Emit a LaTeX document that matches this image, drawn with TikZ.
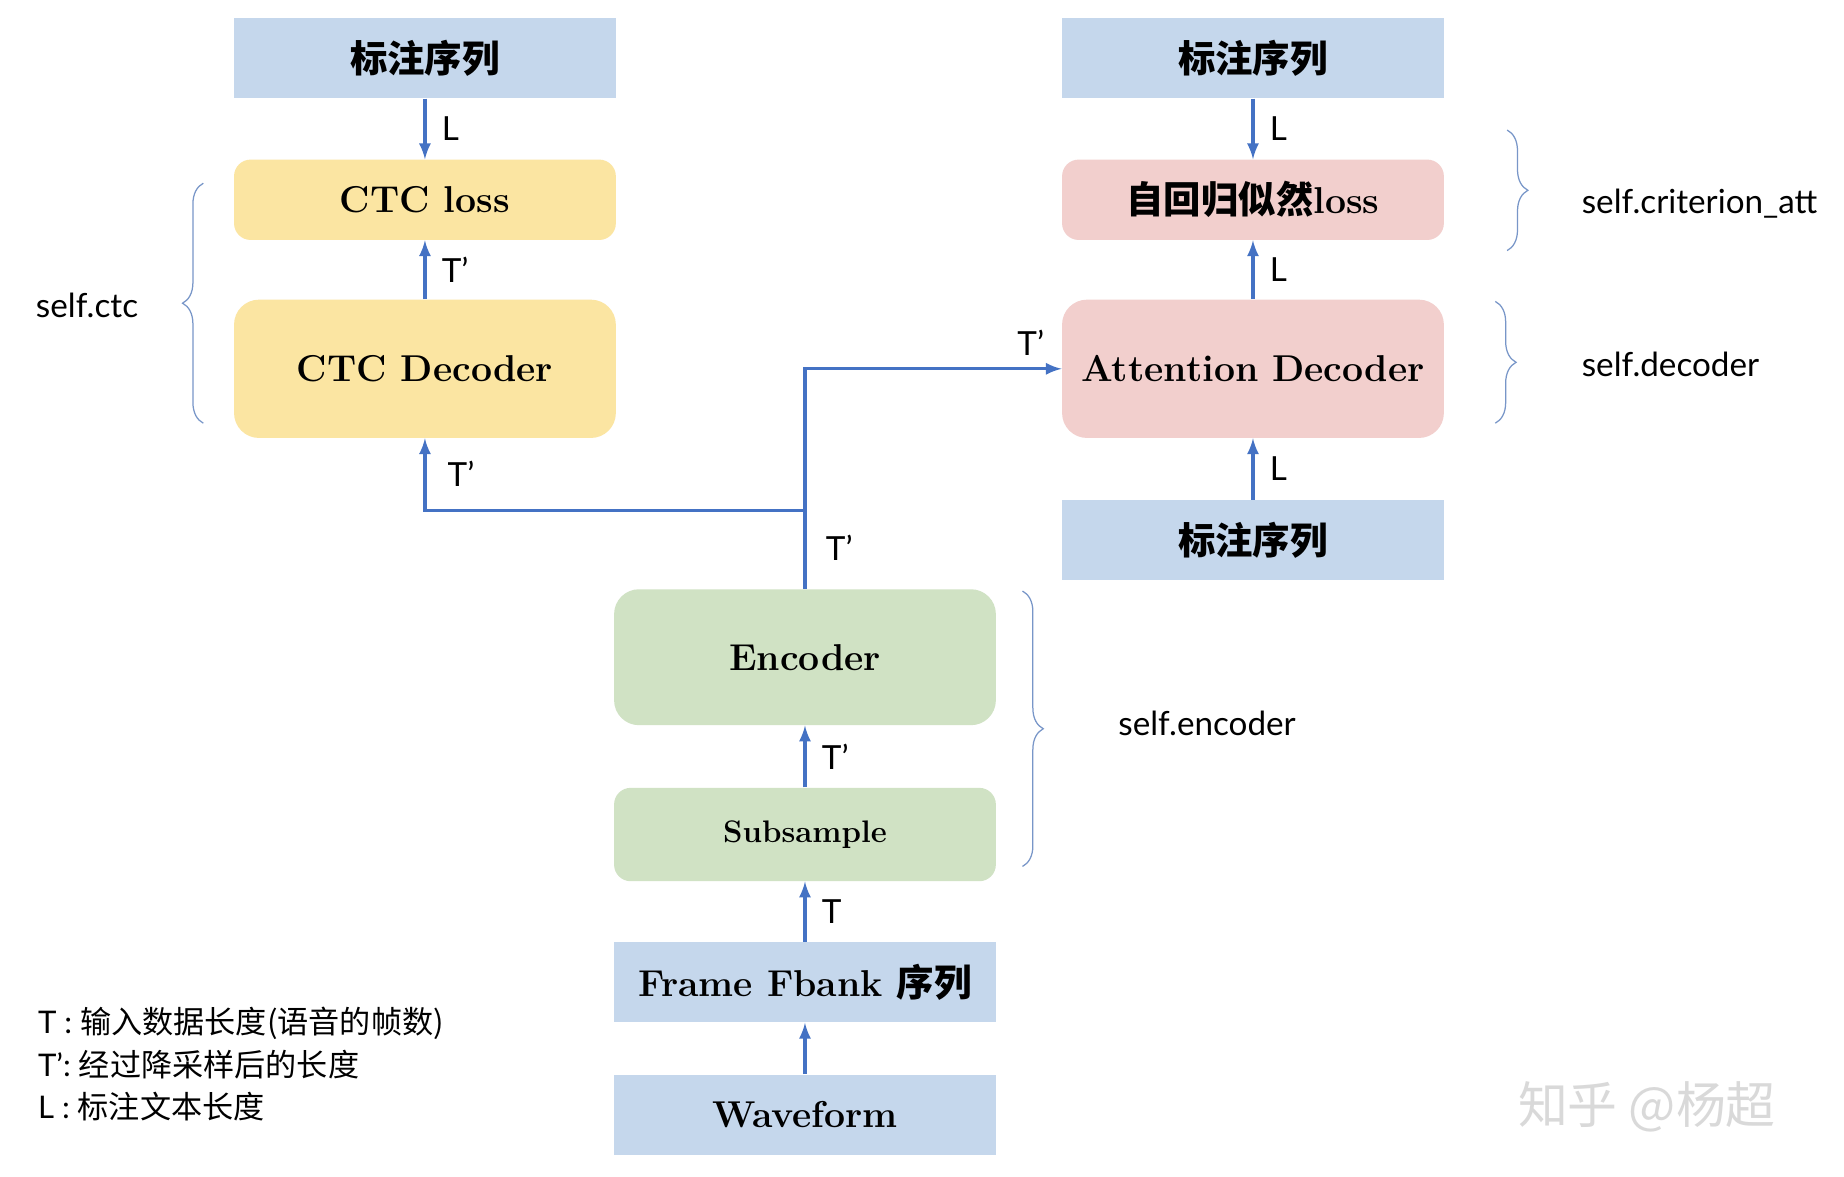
\documentclass[tikz,border=0pt]{standalone}
\usepackage{fontspec}
\setsansfont{Lato}
\newfontfamily\cjk{Noto Sans CJK SC}
\usetikzlibrary{decorations.pathreplacing}
\definecolor{bblue}{RGB}{197,215,236}
\definecolor{byel}{RGB}{251,229,162}
\definecolor{bpink}{RGB}{242,207,205}
\definecolor{bgreen}{RGB}{208,226,196}
\definecolor{arr}{RGB}{68,114,196}
\definecolor{brc}{RGB}{120,150,200}
\begin{document}
\begin{tikzpicture}[x=0.02cm,y=-0.02cm,
 box/.style={minimum width=323*0.02cm,inner sep=0pt,font=\fontsize{18}{20}\selectfont\bfseries},
 lab/.style={font=\sffamily\fontsize{16}{18}\selectfont},
 ar/.style={draw=arr,line width=1.6pt,-latex},
 ln/.style={draw=arr,line width=1.6pt},
 br/.style={draw=brc,line width=0.6pt,decorate,decoration={brace,amplitude=10pt}}]
\useasboundingbox (0,0) rectangle (1560,995);
\fill[white] (0,0) rectangle (1560,995);
% boxes
\node[box,fill=bblue,minimum height=68*0.02cm] (lt) at (359.5,49) {\cjk 标注序列};
\node[box,fill=byel,rounded corners=8pt,minimum height=68*0.02cm] (ctcl) at (359.5,169) {CTC loss};
\node[box,fill=byel,rounded corners=12pt,minimum height=117*0.02cm] (ctcd) at (359.5,312) {CTC Decoder};
\node[box,fill=bblue,minimum height=68*0.02cm] (rt) at (1060,49) {\cjk 标注序列};
\node[box,fill=bpink,rounded corners=8pt,minimum height=68*0.02cm] (arl) at (1060,169) {{\cjk 自回归似然}loss};
\node[box,fill=bpink,rounded corners=12pt,minimum height=117*0.02cm] (attd) at (1060,312) {Attention Decoder};
\node[box,fill=bblue,minimum height=68*0.02cm] (rb) at (1060,457) {\cjk 标注序列};
\node[box,fill=bgreen,rounded corners=12pt,minimum height=115*0.02cm] (enc) at (681,556) {Encoder};
\node[box,fill=bgreen,rounded corners=8pt,minimum height=79*0.02cm,font=\fontsize{15}{17}\selectfont\bfseries] (sub) at (681,706) {Subsample};
\node[box,fill=bblue,minimum height=68*0.02cm] (fb) at (681,831) {Frame Fbank {\cjk 序列}};
\node[box,fill=bblue,minimum height=68*0.02cm] (wf) at (681,943) {Waveform};
% arrows
\draw[ar] (lt) -- (ctcl) node[lab,midway,right=4pt] {L};
\draw[ar] (ctcd) -- (ctcl) node[lab,midway,right=4pt] {T’};
\draw[ar] (rt) -- (arl) node[lab,midway,right=4pt] {L};
\draw[ar] (attd) -- (arl) node[lab,midway,right=4pt] {L};
\draw[ar] (rb) -- (attd) node[lab,midway,right=4pt] {L};
\draw[ar] (sub) -- (enc) node[lab,midway,right=4pt] {T’};
\draw[ar] (fb) -- (sub) node[lab,midway,right=4pt] {T};
\draw[ar] (wf) -- (fb);
\coordinate (j) at (681,432);
\draw[ln] (enc.north) -- (j);
\draw[ar] (j) -| (ctcd.south);
\draw[ar] (j) |- (attd.west);
\node[lab] (t1) at (710,463) {T’};
\node[lab] (t2) at (390,401) {T’};
\node[lab] (t3) at (872,290) {T’};
% braces
\draw[br] (172,358) -- (172,155);
\node[lab,anchor=east] (sc) at (123,258) {self.ctc};
\draw[br] (1275,110) -- (1275,212);
\node[lab,anchor=west] (sca) at (1332,172) {self.criterion\_att};
\draw[br] (1265,255) -- (1265,358);
\node[lab,anchor=west] (sd) at (1332,308) {self.decoder};
\draw[br] (865,500) -- (865,733);
\node[lab,anchor=west] (se) at (940,612) {self.encoder};
% legend
\node[lab,anchor=west,font=\sffamily\fontsize{15}{17}\selectfont] (g1) at (26,866) {T : {\cjk 输入数据长度(语音的帧数)}};
\node[lab,anchor=west,font=\sffamily\fontsize{15}{17}\selectfont] (g2) at (26,901) {T’: {\cjk 经过降采样后的长度}};
\node[lab,anchor=west,font=\sffamily\fontsize{15}{17}\selectfont] (g3) at (26,936) {L : {\cjk 标注文本长度}};
\node[anchor=west,text=black!15,font=\cjk\fontsize{24}{26}\selectfont] (wm) at (1278,936) {知乎 @杨超};
\end{tikzpicture}
\end{document}
